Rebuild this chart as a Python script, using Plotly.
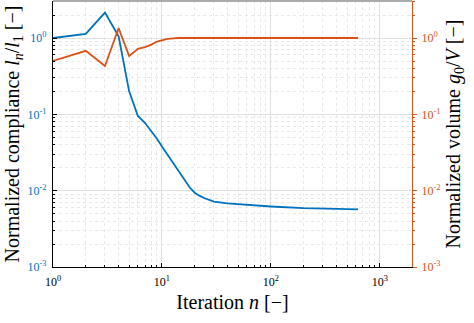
import plotly.graph_objects as go

# Iteration history of the optimisation (sampled iterations)
iter_compliance = [1, 2, 3, 4, 5, 6, 7, 8, 9, 10, 11, 12, 13, 14, 15, 16, 17, 18,
                   20, 22, 25, 30, 40, 60, 100, 200, 400, 630]
compliance = [1.0, 1.13, 2.15, 1.05, 0.2, 0.096, 0.077, 0.061, 0.048, 0.038, 0.031,
              0.0255, 0.022, 0.019, 0.0162, 0.014, 0.0123, 0.011, 0.0094, 0.0086,
              0.0079, 0.0072, 0.0068, 0.0065, 0.0062, 0.0059, 0.0058, 0.0057]

iter_volume = [1, 2, 3, 4, 5, 6, 7, 8, 9, 10, 11, 12, 13, 14, 20, 50, 100, 300, 630]
volume = [0.5, 0.68, 0.43, 1.35, 0.58, 0.72, 0.76, 0.82, 0.9, 0.94, 0.97, 0.98, 0.99,
          1.0, 1.0, 1.0, 1.0, 1.0, 1.0]

x_tickvals = [1, 10, 100, 1000]
x_ticktext = ["10<sup>0</sup>", "10<sup>1</sup>", "10<sup>2</sup>", "10<sup>3</sup>"]
y_tickvals = [0.001, 0.01, 0.1, 1]
y_ticktext = ["10<sup>-3</sup>", "10<sup>-2</sup>", "10<sup>-1</sup>", "10<sup>0</sup>"]

BLUE = "#0072BD"
ORANGE = "#D95319"
FONT = "Liberation Serif"
GRID = "#e0e0e0"
MINOR_GRID = "#e8e8e8"

fig = go.Figure()
fig.add_trace(go.Scatter(x=iter_compliance, y=compliance, mode="lines",
                         line=dict(color=BLUE, width=1.8), yaxis="y"))
fig.add_trace(go.Scatter(x=iter_volume, y=volume, mode="lines",
                         line=dict(color=ORANGE, width=1.8), yaxis="y2"))

fig.update_layout(
    width=474, height=323,
    margin=dict(l=53, r=62, t=1, b=56),
    paper_bgcolor="white", plot_bgcolor="white",
    showlegend=False,
    font=dict(family=FONT, color="black"),
    xaxis=dict(
        type="log", range=[0, 3.295],
        tickmode="array", tickvals=x_tickvals, ticktext=x_ticktext,
        tickfont=dict(size=12, color="black"), ticklabelstandoff=3,
        showline=True, linecolor="black", linewidth=1.3,
        ticks="inside", ticklen=4, tickcolor="black",
        showgrid=True, gridcolor=GRID, gridwidth=1,
        minor=dict(dtick="D1", showgrid=True, gridcolor=MINOR_GRID,
                   griddash="dot", ticks="inside", ticklen=2, tickcolor="black"),
        zeroline=False,
        title=dict(text="Iteration <i>n</i> [−]", font=dict(size=20), standoff=7),
    ),
    yaxis=dict(
        type="log", range=[-3, 0.485],
        tickmode="array", tickvals=y_tickvals, ticktext=y_ticktext,
        tickfont=dict(size=12, color=BLUE), ticklabelstandoff=3,
        showline=True, linecolor="black", linewidth=1.3,
        ticks="inside", ticklen=4, tickcolor="black",
        showgrid=True, gridcolor=GRID, gridwidth=1,
        minor=dict(dtick="D1", showgrid=True, gridcolor=MINOR_GRID,
                   griddash="dot", ticks="inside", ticklen=2, tickcolor="black"),
        zeroline=False,
        title=dict(text="Normalized compliance <i>l<sub>n</sub></i>/<i>l</i><sub>1</sub> [−]",
                   font=dict(size=20), standoff=2),
    ),
    yaxis2=dict(
        type="log", range=[-3, 0.485], overlaying="y", side="right",
        tickmode="array", tickvals=y_tickvals, ticktext=y_ticktext,
        tickfont=dict(size=12, color=ORANGE), ticklabelstandoff=2,
        showline=True, linecolor=ORANGE, linewidth=1.3,
        ticks="outside", ticklen=4, tickcolor=ORANGE,
        showgrid=False,
        minor=dict(dtick="D1", ticks="outside", ticklen=2, tickcolor=ORANGE),
        zeroline=False,
        title=dict(text="Normalized volume <i>g</i><sub>0</sub>/<i>V</i> [−]",
                   font=dict(size=20), standoff=6),
    ),
    shapes=[dict(type="line", xref="paper", yref="paper", x0=0, x1=1, y0=1, y1=1,
                 line=dict(color="#aaaaaa", width=2))],
)

fig.write_html("out.html")
